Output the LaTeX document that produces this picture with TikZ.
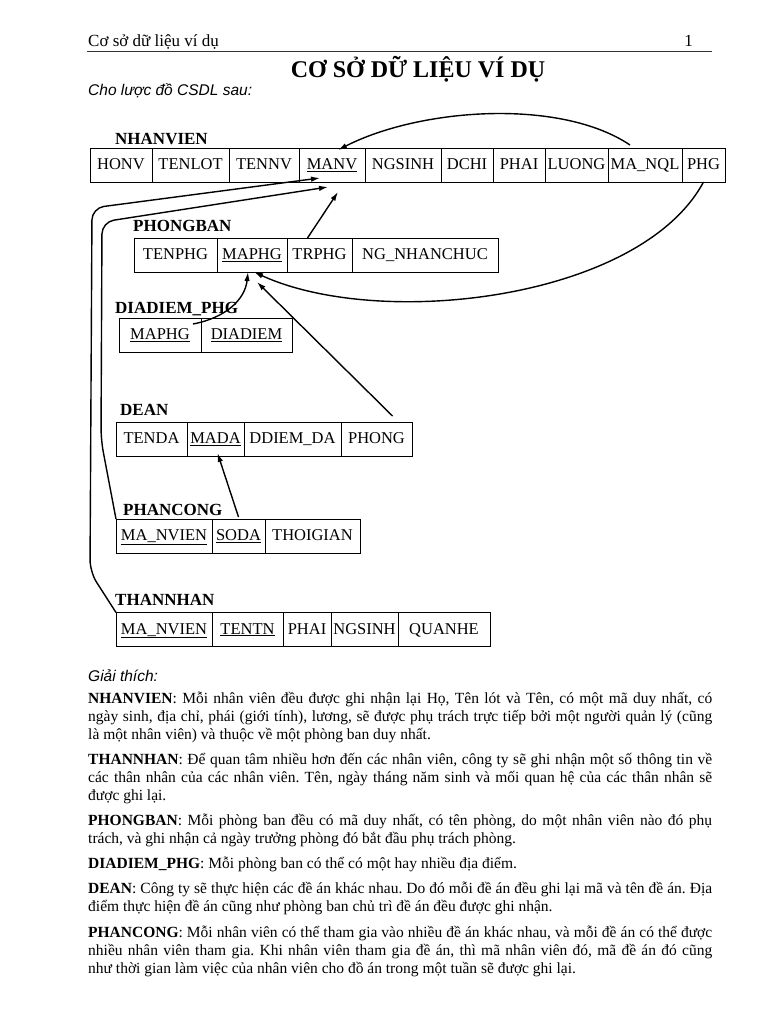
\documentclass[tikz,border=0pt]{standalone}
\usepackage{fontspec}
\setmainfont{Liberation Serif}
\newfontfamily\sansfont{Liberation Sans}
\usetikzlibrary{arrows.meta,positioning}
\frenchspacing

\begin{document}
\begin{tikzpicture}[x=1pt, y=1pt,
        cell/.style={draw, line width=0.8pt, minimum height=34pt, inner xsep=1pt, inner ysep=0pt, outer sep=0pt, text height=11pt, text depth=2pt, font=\fontsize{16.5}{18}\selectfont},
        tname/.style={anchor=base west, inner sep=0pt, font=\bfseries\fontsize{17}{19}\selectfont},
        plain/.style={anchor=base west, inner sep=0pt},
        para/.style={anchor=base west, inner sep=0pt, text width=624pt, align=justify, font=\fontsize{15.5}{18}\selectfont},
        link/.style={-{Latex[length=9pt, width=5.5pt]}, line width=1.4pt}]
        \path[use as bounding box, fill=white] (0,0) rectangle (768,-1024);

        \node (head) [plain, font=\fontsize{17}{19}\selectfont] at (88,-47) {Cơ sở dữ liệu ví dụ};
        \node (pgno) [plain, anchor=base east, font=\fontsize{17}{19}\selectfont] at (693,-47) {1};
        \draw[line width=1pt, black!80] (87,-52) -- (712,-52);
        \node (title) [plain, anchor=base, font=\bfseries\fontsize{24}{26}\selectfont] at (418,-78) {CƠ SỞ DỮ LIỆU VÍ DỤ};
        \node (intro) [plain, font=\sansfont\itshape\fontsize{15.5}{18}\selectfont] at (88,-96) {Cho lược đồ CSDL sau:};

        \node (nvname) [tname] at (115,-145) {NHANVIEN};
        \node (nv1) [cell, minimum width=62pt] at (121,-165) {HONV};
        \node (nv2) [cell, minimum width=77pt, right=0pt of nv1] {TENLOT};
        \node (nv3) [cell, minimum width=70pt, right=0pt of nv2] {TENNV};
        \node (nv4) [cell, minimum width=66pt, right=0pt of nv3] {\underline{MANV}};
        \node (nv5) [cell, minimum width=76pt, right=0pt of nv4] {NGSINH};
        \node (nv6) [cell, minimum width=52pt, right=0pt of nv5] {DCHI};
        \node (nv7) [cell, minimum width=52pt, right=0pt of nv6] {PHAI};
        \node (nv8) [cell, minimum width=63pt, right=0pt of nv7] {LUONG};
        \node (nv9) [cell, minimum width=74pt, right=0pt of nv8] {MA\_NQL};
        \node (nv10) [cell, minimum width=43pt, right=0pt of nv9] {PHG};

        \node (pbname) [tname] at (133,-232) {PHONGBAN};
        \node (pb1) [cell, minimum width=83pt] at (175.5,-255) {TENPHG};
        \node (pb2) [cell, minimum width=70pt, right=0pt of pb1] {\underline{MAPHG}};
        \node (pb3) [cell, minimum width=65pt, right=0pt of pb2] {TRPHG};
        \node (pb4) [cell, minimum width=146pt, right=0pt of pb3] {NG\_NHANCHUC};

        \node (ddname) [tname] at (115,-313) {DIADIEM\_PHG};
        \node (dd1) [cell, minimum width=82pt] at (160,-335) {\underline{MAPHG}};
        \node (dd2) [cell, minimum width=91pt, right=0pt of dd1] {\underline{DIADIEM}};

        \node (dename) [tname] at (120,-415) {DEAN};
        \node (de1) [cell, minimum width=71pt] at (151.5,-439) {TENDA};
        \node (de2) [cell, minimum width=57pt, right=0pt of de1] {\underline{MADA}};
        \node (de3) [cell, minimum width=97pt, right=0pt of de2] {DDIEM\_DA};
        \node (de4) [cell, minimum width=71pt, right=0pt of de3] {PHONG};

        \node (pcname) [tname] at (123,-515) {PHANCONG};
        \node (pc1) [cell, minimum width=96pt] at (164,-536) {\underline{MA\_NVIEN}};
        \node (pc2) [cell, minimum width=53pt, right=0pt of pc1] {\underline{SODA}};
        \node (pc3) [cell, minimum width=95pt, right=0pt of pc2] {THOIGIAN};

        \node (tnname) [tname] at (115,-605) {THANNHAN};
        \node (tn1) [cell, minimum width=96pt] at (164,-629.5) {\underline{MA\_NVIEN}};
        \node (tn2) [cell, minimum width=71pt, right=0pt of tn1] {\underline{TENTN}};
        \node (tn3) [cell, minimum width=48pt, right=0pt of tn2] {PHAI};
        \node (tn4) [cell, minimum width=67pt, right=0pt of tn3] {NGSINH};
        \node (tn5) [cell, minimum width=92pt, right=0pt of tn4] {QUANHE};

        \draw[link] ([xshift=-15pt, yshift=3pt]nv9.north) .. controls (560,-98) and (420,-108) .. ([xshift=6pt, yshift=-2pt]nv4.north);
        \draw[link] (nv10.south) .. controls (640,-300) and (380,-330) .. ([xshift=2pt]pb2.south);
        \draw[link] ([xshift=-12pt]pb3.north) -- ([xshift=6pt, yshift=-10pt]nv4.south);
        \draw[link] ([xshift=-8pt, yshift=-6pt]dd1.north east) .. controls (225,-318) and (245,-300) .. ([xshift=-4pt]pb2.south);
        \draw[link] ([xshift=16pt, yshift=6pt]de4.north) -- ([xshift=5pt, yshift=-10pt]pb2.south);
        \draw[link] ([yshift=2pt]pc2.north) -- ([xshift=2pt, yshift=3pt]de2.south);
        \draw[link, rounded corners=12pt] (pc1.north west) -- (101,-440) -- (102,-222) -- ([xshift=-4pt, yshift=-5pt]nv4.south);
        \draw[link, rounded corners=12pt] (tn1.north west) -- (90,-572) -- (92,-208) -- ([xshift=-12pt, yshift=4pt]nv4.south);

        \node (gt) [plain, font=\sansfont\itshape\fontsize{15.5}{18}\selectfont] at (88,-681) {Giải thích:};
        \node (p1) [para] at (88,-703) {\textbf{NHANVIEN}: Mỗi nhân viên đều được ghi nhận lại Họ, Tên lót và Tên, có một mã duy nhất, có\linebreak ngày sinh, địa chỉ, phái (giới tính), lương, sẽ được phụ trách trực tiếp bởi một người quản lý (cũng\linebreak là một nhân viên) và thuộc về một phòng ban duy nhất.};
        \node (p2) [para] at (88,-764) {\textbf{THANNHAN}: Để quan tâm nhiều hơn đến các nhân viên, công ty sẽ ghi nhận một số thông tin về\linebreak các thân nhân của các nhân viên. Tên, ngày tháng năm sinh và mối quan hệ của các thân nhân sẽ\linebreak được ghi lại.};
        \node (p3) [para] at (88,-825) {\textbf{PHONGBAN}: Mỗi phòng ban đều có mã duy nhất, có tên phòng, do một nhân viên nào đó phụ\linebreak trách, và ghi nhận cả ngày trưởng phòng đó bắt đầu phụ trách phòng.};
        \node (p4) [para] at (88,-868) {\textbf{DIADIEM\_PHG}: Mỗi phòng ban có thể có một hay nhiều địa điểm.};
        \node (p5) [para] at (88,-893) {\textbf{DEAN}: Công ty sẽ thực hiện các đề án khác nhau. Do đó mỗi đề án đều ghi lại mã và tên đề án. Địa\linebreak điểm thực hiện đề án cũng như phòng ban chủ trì đề án đều được ghi nhận.};
        \node (p6) [para] at (88,-937) {\textbf{PHANCONG}: Mỗi nhân viên có thể tham gia vào nhiều đề án khác nhau, và mỗi đề án có thể được\linebreak nhiều nhân viên tham gia. Khi nhân viên tham gia đề án, thì mã nhân viên đó, mã đề án đó cũng\linebreak như thời gian làm việc của nhân viên cho đồ án trong một tuần sẽ được ghi lại.};
    \end{tikzpicture}
\end{document}
